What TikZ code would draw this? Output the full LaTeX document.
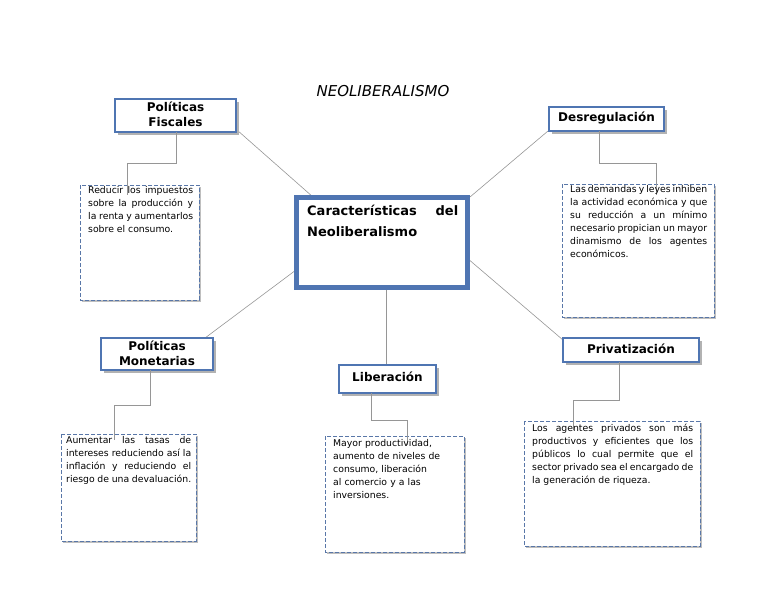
\documentclass[tikz,border=0pt]{standalone}
\usepackage{fontspec}
\setmainfont{DejaVu Sans}
\definecolor{bl}{RGB}{79,117,178}
\definecolor{ln}{RGB}{150,150,150}
\newcommand{\nohy}{\hyphenpenalty=10000\relax\exhyphenpenalty=10000\relax}
\begin{document}
\begin{tikzpicture}[x=1pt,y=-1pt,
  hdr/.style={draw=bl,line width=2.5pt,fill=white},
  dbox/.style={draw=bl!80!gray,line width=0.8pt,dash pattern=on 4pt off 2pt},
  txt/.style={inner sep=0pt,anchor=north west,align=justify,font=\fontsize{9.3}{13}\selectfont\nohy},
  con/.style={draw=ln,line width=0.6pt},
  ht/.style={font=\bfseries\fontsize{12}{15}\selectfont,inner sep=0pt}]
\useasboundingbox (0,0) rectangle (768,594);
\node[font=\itshape\fontsize{15}{17}\selectfont] (title) at (383,91) {NEOLIBERALISMO};
% connectors
\coordinate (f1) at (237,130); \coordinate (c1) at (313,197);
\coordinate (d1) at (548,131); \coordinate (c2) at (470,197);
\coordinate (p1) at (563,340); \coordinate (c3) at (467,258);
\coordinate (m1) at (205,338); \coordinate (c4) at (296,270);
\coordinate (l1) at (386,365); \coordinate (c5) at (386,287);
\draw[con] (f1)--(c1); \draw[con] (d1)--(c2); \draw[con] (p1)--(c3);
\draw[con] (m1)--(c4); \draw[con] (l1)--(c5);
% shadows + dashed boxes
\foreach \a/\b/\c/\d in {80/185/199/300, 562/184/714/317, 61/434/196/541, 325/436/464/552, 524/421/700/546}{
  \fill[black!25] (\a+2,\b+2) rectangle (\c+2,\d+2);
  \filldraw[fill=white,dbox] (\a,\b) rectangle (\c,\d);}
% header boxes
\foreach \a/\b/\c/\d in {115/99/236/132, 549/107/664/131, 101/338/213/370, 339/365/436/393, 563/338/699/362}{
  \fill[black!30] (\a+3,\b+3) rectangle (\c+3,\d+3);
  \draw[hdr] (\a,\b) rectangle (\c,\d);}
\fill[black!30] (299,200) rectangle (470,290);
\draw[draw=bl,line width=5pt,fill=white] (296,197) rectangle (467,287);
\begin{scope}
\clip (117,101) rectangle (234,130);
\node[ht,align=center,anchor=north] (fis) at (175.5,102) {Políticas\\Fiscales};
\end{scope}
\begin{scope}
\clip (103,340) rectangle (211,368);
\node[ht,align=center,anchor=north] (mon) at (157,341) {Políticas\\Monetarias};
\end{scope}
\node[ht] (des) at (606.5,118) {Desregulación};
\node[ht] (lib) at (387.5,377) {Liberación};
\node[ht] (pri) at (631,349) {Privatización};
\node[inner sep=0pt,anchor=north west,align=justify,text width=151pt,font=\bfseries\fontsize{13}{21}\selectfont\nohy] (cen) at (307,205) {Características del Neoliberalismo};
% elbows
\coordinate (e1) at (176,132); \coordinate (e1b) at (127,195);
\draw[con] (e1)--(176,163)--(127,163)--(e1b);
\coordinate (e2) at (599,131); \coordinate (e2b) at (656,195);
\draw[con] (e2)--(599,163)--(656,163)--(e2b);
\coordinate (e3) at (150,370); \coordinate (e3b) at (114,440);
\draw[con] (e3)--(150,405)--(114,405)--(e3b);
\coordinate (e4) at (371,393); \coordinate (e4b) at (407,445);
\draw[con] (e4)--(371,420)--(407,420)--(e4b);
\coordinate (e5) at (619,362); \coordinate (e5b) at (573,430);
\draw[con] (e5)--(619,400)--(573,400)--(e5b);
% texts
\node[txt,text width=105pt] (t1) at (88,186) {Reducir los impuestos sobre la producción y la renta y aumentarlos sobre el consumo.};
\node[txt,text width=137pt] (t2) at (570,185) {Las demandas y leyes inhiben la actividad económica y que su reducción a un mínimo necesario propician un mayor dinamismo de los agentes económicos.};
\node[txt,text width=125pt] (t3) at (66,436) {Aumentar las tasas de intereses reduciendo así la inflación y reduciendo el riesgo de una devaluación.};
\node[txt,text width=125pt,align=left] (t4) at (333,439) {Mayor productividad, aumento de niveles de consumo, liberación al comercio y a las inversiones.};
\node[txt,text width=161pt] (t5) at (532,424) {Los agentes privados son más productivos y eficientes que los públicos lo cual permite que el sector privado sea el encargado de la generación de riqueza.};
\end{tikzpicture}
\end{document}
